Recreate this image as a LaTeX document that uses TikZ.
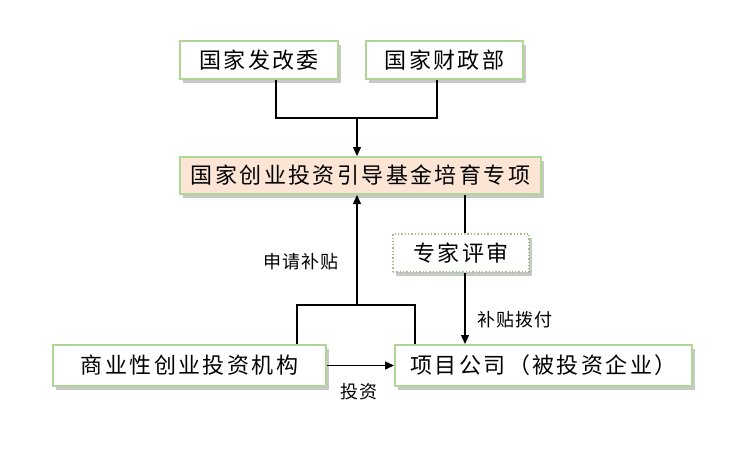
\documentclass[tikz,border=0pt]{standalone}
\usepackage{fontspec}
\newfontfamily\cjk[LetterSpace=11]{Noto Sans CJK SC}
\newfontfamily\cjklbl[LetterSpace=6]{Noto Sans CJK SC}
\usetikzlibrary{arrows.meta,shadows}
\definecolor{boxgreen}{RGB}{176,214,150}
\definecolor{peach}{RGB}{252,229,213}
\tikzset{
  box/.style={draw=boxgreen, line width=2pt, fill=white, inner sep=0pt,
    font=\cjk\fontsize{22}{24}\selectfont,
    drop shadow={shadow xshift=3pt, shadow yshift=-3.5pt, opacity=0.3, fill=black!70}},
  revbox/.style={box, draw=boxgreen!90!black, line width=1.3pt, dotted},
  conn/.style={line width=1.3pt, black},
  arr/.style={conn, -{Triangle[length=9pt,width=8pt]}},
  lbl/.style={font=\cjklbl\fontsize{18}{20}\selectfont, inner sep=0pt}
}
\begin{document}
\begin{tikzpicture}[x=1pt,y=-1pt]
\useasboundingbox (0,0) rectangle (754,450);
\fill[white] (0,0) rectangle (754,450);
\node[box, minimum width=158pt, minimum height=38pt] (b1) at (259,60) {国家发改委};
\node[box, minimum width=157pt, minimum height=38pt] (b2) at (444.5,60) {国家财政部};
\node[box, fill=peach, minimum width=361pt, minimum height=37pt] (b3) at (360.5,175.5) {国家创业投资引导基金培育专项};
\node[revbox, minimum width=136pt, minimum height=38pt] (rv) at (461,253) {专家评审};
\node[box, minimum width=273pt, minimum height=41pt] (b4) at (189.5,365.5) {商业性创业投资机构};
\node[box, minimum width=297pt, minimum height=41pt] (b5) at (543.5,365.5) {项目公司（被投资企业）};
\coordinate (j) at (357,118);
\coordinate (k) at (357,305);
\coordinate (r1) at ([xshift=4pt]rv.north);
\coordinate (r2) at ([xshift=4pt]rv.south);
\draw[conn] ([xshift=17pt]b1.south) |- (j) -| ([xshift=-7.5pt]b2.south);
\draw[arr] (j) -- (j |- b3.north);
\draw[conn] ([xshift=107.5pt]b4.north) |- (k) -| ([xshift=-128.5pt]b5.north);
\draw[arr] (k) -- (k |- b3.south);
\draw[conn] (r1 |- b3.south) -- (r1);
\draw[arr] (r2) -- (r2 |- b5.north);
\draw[arr] (b4.east) -- (b5.west);
\node[lbl] (l1) at (301,262) {申请补贴};
\node[lbl] (l2) at (515,320) {补贴拨付};
\node[lbl] (l3) at (359,392) {投资};
\end{tikzpicture}
\end{document}
